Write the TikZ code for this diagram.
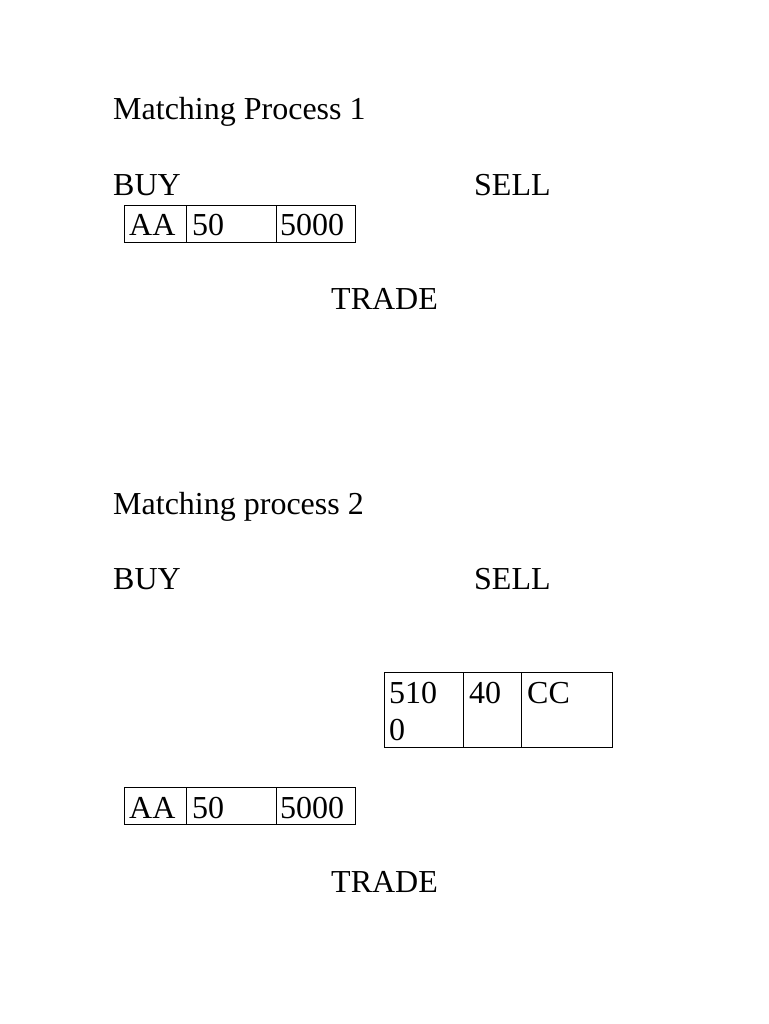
\documentclass[tikz,border=0pt]{standalone}
\usepackage{fontspec}
\setmainfont{Liberation Serif}
\begin{document}
\begin{tikzpicture}[x=1pt,y=1pt,
  txt/.style={inner sep=0pt,anchor=base west,font=\fontsize{32}{36}\selectfont},
  cell/.style={draw=black,line width=1.4pt,inner sep=0pt,anchor=north west}]
\useasboundingbox[fill=white] (0,0) rectangle (768,-1024);
% Process 1
\node[txt] (t1) at (113,-120) {Matching Process 1};
\node[txt] (b1) at (113,-196) {BUY};
\node[txt] (s1) at (474,-196) {SELL};
\node[cell,minimum width=62pt,minimum height=37pt] (c11) at (124,-205) {};
\node[cell,minimum width=90pt,minimum height=37pt] (c12) at (186,-205) {};
\node[cell,minimum width=79pt,minimum height=37pt] (c13) at (276,-205) {};
\node[txt] (v11) at (129,-236) {AA};
\node[txt] (v12) at (192,-236) {50};
\node[txt] (v13) at (280,-236) {5000};
\node[txt] (tr1) at (331,-309) {TRADE};
% Process 2
\node[txt] (t2) at (113,-514) {Matching process 2};
\node[txt] (b2) at (113,-589) {BUY};
\node[txt] (s2) at (474,-589) {SELL};
\node[cell,minimum width=79pt,minimum height=75pt] (c21) at (384,-672) {};
\node[cell,minimum width=58pt,minimum height=75pt] (c22) at (463,-672) {};
\node[cell,minimum width=91pt,minimum height=75pt] (c23) at (521,-672) {};
\node[txt] (v21) at (389,-703) {510};
\node[txt] (v21b) at (389,-740) {0};
\node[txt] (v22) at (469,-703) {40};
\node[txt] (v23) at (527,-703) {CC};
\node[cell,minimum width=62pt,minimum height=37pt] (c31) at (124,-787) {};
\node[cell,minimum width=90pt,minimum height=37pt] (c32) at (186,-787) {};
\node[cell,minimum width=79pt,minimum height=37pt] (c33) at (276,-787) {};
\node[txt] (v31) at (129,-818) {AA};
\node[txt] (v32) at (192,-818) {50};
\node[txt] (v33) at (280,-818) {5000};
\node[txt] (tr2) at (331,-892) {TRADE};
\end{tikzpicture}
\end{document}
